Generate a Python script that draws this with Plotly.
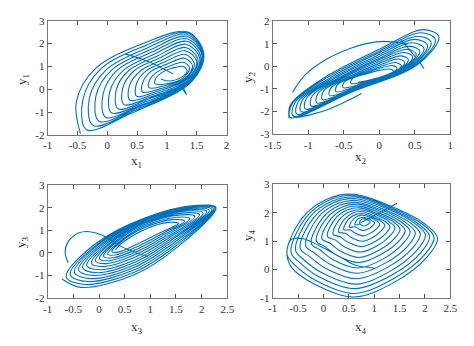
import plotly.graph_objects as go

# ---------------- Panel 1 : (x1, y1) ----------------
x1 = [0.30, 0.60, 0.85, 1.10, None, 1.22, 1.33, 1.28, None,
      -0.45, -0.52, -0.20, 0.60, 1.35, 1.62, 1.42, 0.40,
      -0.35, -0.41, -0.11, 0.64, 1.35, 1.62, 1.42, 0.45,
      -0.24, -0.30, -0.01, 0.68, 1.34, 1.61, 1.41, 0.50,
      -0.14, -0.19, 0.08, 0.72, 1.34, 1.60, 1.41, 0.56,
      -0.03, -0.07, 0.17, 0.76, 1.33, 1.59, 1.40, 0.61,
      0.07, 0.04, 0.27, 0.80, 1.33, 1.57, 1.39, 0.66,
      0.18, 0.15, 0.36, 0.84, 1.32, 1.55, 1.38, 0.71,
      0.28, 0.26, 0.45, 0.88, 1.31, 1.52, 1.36, 0.76,
      0.38, 0.37, 0.55, 0.92, 1.31, 1.50, 1.34, 0.81,
      0.49, 0.49, 0.64, 0.96, 1.30, 1.46, 1.32, 0.87,
      0.59, 0.60, 0.73, 1.00, 1.29, 1.43, 1.30, 0.92,
      0.70, 0.71, 0.83, 1.04, 1.28, 1.38, 1.27, 0.97,
      0.80, 0.82, 0.92, 1.08, 1.27, 1.34, 1.24, 1.02, 0.90]
y1 = [1.55, 1.30, 1.02, 0.68, None, 0.20, -0.25, 0.05, None,
      -1.95, -0.55, 0.90, 2.00, 2.50, 1.55, 0.35, -1.05,
      -1.77, -0.46, 0.89, 1.91, 2.46, 1.54, 0.35, -0.93,
      -1.58, -0.37, 0.87, 1.82, 2.40, 1.53, 0.35, -0.81,
      -1.40, -0.29, 0.86, 1.73, 2.31, 1.50, 0.36, -0.70,
      -1.22, -0.20, 0.85, 1.64, 2.21, 1.47, 0.37, -0.58,
      -1.03, -0.11, 0.83, 1.55, 2.10, 1.42, 0.38, -0.46,
      -0.85, -0.03, 0.82, 1.46, 1.97, 1.36, 0.39, -0.35,
      -0.67, 0.06, 0.81, 1.37, 1.83, 1.30, 0.41, -0.23,
      -0.48, 0.15, 0.79, 1.28, 1.68, 1.22, 0.43, -0.11,
      -0.30, 0.24, 0.78, 1.19, 1.53, 1.13, 0.45, 0.01,
      -0.12, 0.33, 0.77, 1.10, 1.36, 1.03, 0.47, 0.13,
      0.07, 0.41, 0.75, 1.01, 1.18, 0.92, 0.49, 0.23,
      0.25, 0.50, 0.74, 0.92, 1.00, 0.80, 0.52, 0.36, 0.45]

# ---------------- Panel 2 : (x2, y2) ----------------
x2 = [-1.22, -1.05, -0.75, -0.40, -0.05, 0.20, 0.40, None,
      0.30, 0.42, 0.55, 0.63, None,
      -1.15, -0.95, -0.70, -0.45, -0.25, None,
      -1.27, -1.25, -0.80, 0.00, 0.62, 0.84, 0.55, -0.40,
      -1.25, -1.23, -0.75, 0.00, 0.58, 0.79, 0.51, -0.38,
      -1.21, -1.19, -0.70, 0.00, 0.54, 0.73, 0.47, -0.36,
      -1.16, -1.14, -0.65, 0.00, 0.50, 0.68, 0.44, -0.34,
      -1.10, -1.08, -0.60, 0.00, 0.46, 0.63, 0.40, -0.32,
      -1.04, -1.02, -0.55, 0.00, 0.42, 0.57, 0.36, -0.30,
      -0.96, -0.94, -0.50, 0.00, 0.39, 0.52, 0.33, -0.28,
      -0.88, -0.86, -0.45, 0.00, 0.35, 0.47, 0.29, -0.25,
      -0.80, -0.78, -0.40, 0.00, 0.31, 0.41, 0.25, -0.23,
      -0.70, -0.68, -0.35, 0.00, 0.27, 0.36, 0.21, -0.21,
      -0.61, -0.59, -0.30, 0.00, 0.23, 0.31, 0.18, -0.19,
      -0.51, -0.49, -0.25, 0.00, 0.19, 0.25, 0.14, -0.17,
      -0.40, -0.38, -0.20, 0.00, 0.15, 0.20, 0.10, -0.15, -0.30]
y2 = [-1.15, -0.40, 0.30, 0.80, 1.08, 1.08, 0.98, None,
      1.20, 0.75, 0.25, -0.10, None,
      -2.25, -2.12, -1.88, -1.52, -1.20, None,
      -2.30, -1.70, -0.55, 0.75, 1.62, 1.30, 0.10, -1.15,
      -2.26, -1.67, -0.53, 0.67, 1.48, 1.17, 0.06, -1.11,
      -2.19, -1.62, -0.52, 0.60, 1.33, 1.05, 0.02, -1.06,
      -2.11, -1.56, -0.50, 0.52, 1.19, 0.92, -0.02, -1.02,
      -2.00, -1.48, -0.48, 0.44, 1.04, 0.79, -0.06, -0.97,
      -1.88, -1.39, -0.47, 0.36, 0.89, 0.67, -0.10, -0.93,
      -1.75, -1.29, -0.45, 0.29, 0.75, 0.54, -0.14, -0.89,
      -1.61, -1.19, -0.43, 0.21, 0.61, 0.41, -0.18, -0.84,
      -1.46, -1.07, -0.42, 0.13, 0.46, 0.29, -0.22, -0.80,
      -1.29, -0.95, -0.40, 0.05, 0.32, 0.16, -0.26, -0.75,
      -1.12, -0.82, -0.38, -0.03, 0.17, 0.03, -0.30, -0.71,
      -0.94, -0.69, -0.37, -0.10, 0.03, -0.09, -0.34, -0.66,
      -0.75, -0.55, -0.35, -0.18, -0.12, -0.22, -0.38, -0.62, -0.70]

# ---------------- Panel 3 : (x3, y3) ----------------
x3 = [0.95, 0.67, 0.34, 0.08, -0.18, -0.40, -0.60, -0.66, -0.60, None,
      -0.72, -0.35, 0.70, 1.55, 2.28, 1.90, 0.90, -0.10,
      -0.64, -0.29, 0.70, 1.52, 2.27, 1.90, 0.90, -0.05,
      -0.56, -0.22, 0.71, 1.49, 2.26, 1.88, 0.90, -0.01,
      -0.48, -0.16, 0.71, 1.46, 2.23, 1.87, 0.90, 0.04,
      -0.40, -0.10, 0.72, 1.43, 2.20, 1.84, 0.90, 0.08,
      -0.32, -0.04, 0.72, 1.40, 2.15, 1.80, 0.90, 0.13,
      -0.24, 0.03, 0.73, 1.38, 2.10, 1.76, 0.90, 0.18,
      -0.15, 0.09, 0.73, 1.35, 2.03, 1.71, 0.90, 0.22,
      -0.07, 0.15, 0.73, 1.32, 1.96, 1.66, 0.90, 0.27,
      0.01, 0.21, 0.74, 1.29, 1.87, 1.59, 0.90, 0.31,
      0.09, 0.28, 0.74, 1.26, 1.77, 1.52, 0.90, 0.36,
      0.17, 0.34, 0.75, 1.23, 1.67, 1.44, 0.90, 0.40,
      0.25, 0.40, 0.75, 1.20, 1.55, 1.35, 0.90, 0.45, 0.32]
y3 = [-0.16, 0.05, 0.39, 0.77, 0.94, 0.88, 0.50, 0.02, -0.43, None,
      -1.15, -1.52, -0.95, 0.30, 2.00, 2.10, 1.55, 0.35,
      -1.05, -1.39, -0.84, 0.35, 1.99, 2.09, 1.55, 0.36,
      -0.95, -1.26, -0.72, 0.40, 1.98, 2.08, 1.54, 0.37,
      -0.85, -1.13, -0.61, 0.45, 1.96, 2.05, 1.52, 0.38,
      -0.75, -0.99, -0.50, 0.50, 1.92, 2.02, 1.49, 0.38,
      -0.65, -0.87, -0.39, 0.55, 1.88, 1.97, 1.46, 0.39,
      -0.55, -0.74, -0.28, 0.60, 1.83, 1.91, 1.43, 0.40,
      -0.45, -0.60, -0.16, 0.65, 1.76, 1.85, 1.38, 0.41,
      -0.35, -0.47, -0.05, 0.70, 1.69, 1.77, 1.33, 0.42,
      -0.25, -0.34, 0.06, 0.75, 1.61, 1.68, 1.27, 0.43,
      -0.15, -0.21, 0.17, 0.80, 1.51, 1.58, 1.20, 0.43,
      -0.05, -0.08, 0.29, 0.85, 1.41, 1.47, 1.13, 0.44,
      0.05, 0.05, 0.40, 0.90, 1.30, 1.35, 1.05, 0.45, 0.15]

# ---------------- Panel 4 : (x4, y4) ----------------
x4 = [1.45, 1.20, 0.95,
      0.71, 0.73, 0.77, 0.80, 0.85, 0.90, 0.92, 0.91, 0.86, 0.80, 0.75, 0.72,
      0.62, 0.66, 0.73, 0.79, 0.88, 0.97, 1.01, 0.98, 0.90, 0.79, 0.69, 0.63,
      0.51, 0.58, 0.68, 0.78, 0.92, 1.06, 1.11, 1.07, 0.94, 0.78, 0.62, 0.53,
      0.40, 0.49, 0.63, 0.76, 0.95, 1.14, 1.21, 1.15, 0.98, 0.76, 0.55, 0.43,
      0.30, 0.41, 0.58, 0.75, 0.98, 1.22, 1.31, 1.24, 1.02, 0.75, 0.47, 0.33,
      0.19, 0.32, 0.53, 0.73, 1.02, 1.30, 1.41, 1.32, 1.06, 0.73, 0.40, 0.23,
      0.08, 0.23, 0.47, 0.71, 1.05, 1.39, 1.51, 1.41, 1.10, 0.71, 0.33, 0.13,
      -0.03, 0.15, 0.42, 0.70, 1.08, 1.47, 1.61, 1.50, 1.14, 0.70, 0.26, 0.03,
      -0.14, 0.06, 0.37, 0.68, 1.12, 1.55, 1.71, 1.58, 1.18, 0.68, 0.19, -0.07,
      -0.24, -0.02, 0.32, 0.67, 1.15, 1.63, 1.81, 1.67, 1.22, 0.67, 0.12, -0.17,
      -0.35, -0.11, 0.27, 0.65, 1.19, 1.72, 1.91, 1.76, 1.26, 0.65, 0.05, -0.27,
      -0.46, -0.19, 0.22, 0.64, 1.22, 1.80, 2.01, 1.84, 1.30, 0.64, -0.03, -0.38,
      -0.55, -0.27, 0.18, 0.62, 1.25, 1.87, 2.09, 1.92, 1.34, 0.62, -0.09, -0.46,
      -0.64, -0.34, 0.14, 0.61, 1.28, 1.94, 2.18, 1.99, 1.37, 0.61, -0.15, -0.55,
      -0.72, -0.40, 0.10, 0.60, 1.30, 2.00, 2.25, 2.05, 1.40, 0.60, -0.20, -0.62,
      -0.72, -0.64, -0.40, -0.05, 0.35, 0.62, 1.00]
y4 = [2.33, 2.08, 1.85,
      1.64, 1.73, 1.78, 1.79, 1.76, 1.71, 1.68, 1.63, 1.57, 1.53, 1.56, 1.60,
      1.57, 1.74, 1.82, 1.84, 1.79, 1.70, 1.64, 1.56, 1.44, 1.37, 1.43, 1.50,
      1.49, 1.75, 1.88, 1.91, 1.83, 1.70, 1.60, 1.47, 1.29, 1.18, 1.28, 1.39,
      1.40, 1.76, 1.93, 1.97, 1.86, 1.69, 1.55, 1.38, 1.13, 0.99, 1.12, 1.27,
      1.32, 1.76, 1.99, 2.04, 1.90, 1.68, 1.51, 1.29, 0.98, 0.80, 0.97, 1.15,
      1.24, 1.77, 2.04, 2.10, 1.94, 1.67, 1.47, 1.20, 0.83, 0.61, 0.81, 1.04,
      1.16, 1.78, 2.09, 2.17, 1.97, 1.66, 1.42, 1.11, 0.68, 0.42, 0.65, 0.92,
      1.08, 1.79, 2.15, 2.23, 2.01, 1.65, 1.38, 1.02, 0.53, 0.24, 0.50, 0.80,
      1.00, 1.80, 2.20, 2.30, 2.05, 1.65, 1.34, 0.93, 0.37, 0.05, 0.34, 0.69,
      0.91, 1.81, 2.26, 2.36, 2.09, 1.64, 1.29, 0.84, 0.22, -0.14, 0.19, 0.57,
      0.83, 1.82, 2.31, 2.43, 2.12, 1.63, 1.25, 0.76, 0.07, -0.33, 0.03, 0.45,
      0.75, 1.83, 2.37, 2.49, 2.16, 1.62, 1.21, 0.67, -0.08, -0.52, -0.12, 0.33,
      0.68, 1.84, 2.41, 2.55, 2.19, 1.61, 1.17, 0.59, -0.21, -0.68, -0.26, 0.23,
      0.61, 1.84, 2.46, 2.60, 2.22, 1.61, 1.13, 0.51, -0.34, -0.85, -0.39, 0.13,
      0.55, 1.85, 2.50, 2.65, 2.25, 1.60, 1.10, 0.45, -0.45, -0.98, -0.50, 0.05,
      0.55, 1.05, 1.08, 0.80, 0.42, 0.15, 0.05]

# ---------------- Axis ticks ----------------
x1_ticks = [-1, -0.5, 0, 0.5, 1, 1.5, 2]
x1_labels = ["-1", "-0.5", "0", "0.5", "1", "1.5", "2"]
y1_ticks = [-2, -1, 0, 1, 2, 3]
y1_labels = ["-2", "-1", "0", "1", "2", "3"]
x2_ticks = [-1.5, -1, -0.5, 0, 0.5, 1]
x2_labels = ["-1.5", "-1", "-0.5", "0", "0.5", "1"]
y2_ticks = [-3, -2, -1, 0, 1, 2]
y2_labels = ["-3", "-2", "-1", "0", "1", "2"]
x34_ticks = [-1, -0.5, 0, 0.5, 1, 1.5, 2, 2.5]
x34_labels = ["-1", "-0.5", "0", "0.5", "1", "1.5", "2", "2.5"]
y3_ticks = [-2, -1, 0, 1, 2, 3]
y3_labels = ["-2", "-1", "0", "1", "2", "3"]
y4_ticks = [-1, 0, 1, 2, 3]
y4_labels = ["-1", "0", "1", "2", "3"]

W, H = 474, 346
LINE = "#0072BD"
FONT = "Liberation Serif, Times New Roman, serif"

fig = go.Figure()
panels = [(x1, y1, "x", "y"), (x2, y2, "x2", "y2"), (x3, y3, "x3", "y3"), (x4, y4, "x4", "y4")]
for xs, ys, xa, ya in panels:
    fig.add_trace(go.Scatter(x=xs, y=ys, mode="lines", xaxis=xa, yaxis=ya,
                             line=dict(color=LINE, width=1.1, shape="spline", smoothing=1.0),
                             connectgaps=False, showlegend=False, hoverinfo="skip"))

def px_dom(a, b, total):
    return [a / total, b / total]

def py_dom(top, bottom):
    return [1 - bottom / H, 1 - top / H]

common = dict(ticks="inside", ticklen=4, tickcolor="#555", showline=True, linecolor="#777",
              linewidth=1, mirror="ticks", showgrid=False, zeroline=False, automargin=False,
              tickfont=dict(family=FONT, size=11, color="#333"))

axes = {
    "xaxis": dict(domain=px_dom(47.7, 226.5, W), range=[-1, 2], tickvals=x1_ticks, ticktext=x1_labels, anchor="y"),
    "yaxis": dict(domain=py_dom(20.7, 135.0), range=[-2, 3], tickvals=y1_ticks, ticktext=y1_labels, anchor="x"),
    "xaxis2": dict(domain=px_dom(272.7, 450.3, W), range=[-1.5, 1], tickvals=x2_ticks, ticktext=x2_labels, anchor="y2"),
    "yaxis2": dict(domain=py_dom(21.0, 134.3), range=[-3, 2], tickvals=y2_ticks, ticktext=y2_labels, anchor="x2"),
    "xaxis3": dict(domain=px_dom(47.7, 227.3, W), range=[-1, 2.5], tickvals=x34_ticks, ticktext=x34_labels, anchor="y3"),
    "yaxis3": dict(domain=py_dom(185.0, 298.3), range=[-2, 3], tickvals=y3_ticks, ticktext=y3_labels, anchor="x3"),
    "xaxis4": dict(domain=px_dom(272.7, 450.3, W), range=[-1, 2.5], tickvals=x34_ticks, ticktext=x34_labels, anchor="y4"),
    "yaxis4": dict(domain=py_dom(184.3, 297.7), range=[-1, 3], tickvals=y4_ticks, ticktext=y4_labels, anchor="x4"),
}
for k, v in axes.items():
    v.update(common)
fig.update_layout(**axes)

titles = [
    ("x<sub>1</sub>", 136.7, 161, 0), ("y<sub>1</sub>", 22, 80, -90),
    ("x<sub>2</sub>", 361, 158, 0), ("y<sub>2</sub>", 248, 77, -90),
    ("x<sub>3</sub>", 136.7, 327, 0), ("y<sub>3</sub>", 21, 242, -90),
    ("x<sub>4</sub>", 361, 327, 0), ("y<sub>4</sub>", 248, 235, -90),
]
for txt, px, py, ang in titles:
    fig.add_annotation(text=txt, x=px / W, y=1 - py / H, xref="paper", yref="paper",
                       showarrow=False, textangle=ang, xanchor="center", yanchor="middle",
                       font=dict(family=FONT, size=13, color="#333"))

fig.update_layout(width=W, height=H, margin=dict(l=0, r=0, t=0, b=0),
                  paper_bgcolor="white", plot_bgcolor="white")

fig.write_html("out.html", config={"responsive": False, "displayModeBar": False},
               post_script="document.body.style.margin='0px';document.body.style.padding='0px';")
